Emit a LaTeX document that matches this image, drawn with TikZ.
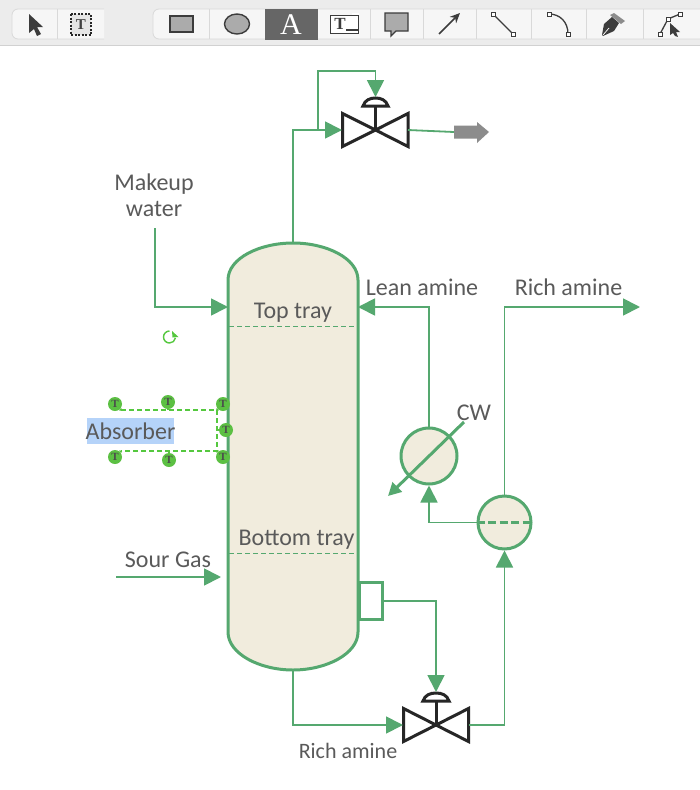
\documentclass[tikz,border=0pt]{standalone}
\usepackage{fontspec}
\setmainfont{Carlito}
\newfontfamily\serifbar{Liberation Serif}
\usetikzlibrary{arrows.meta,calc}
\definecolor{pipe}{HTML}{55A86F}
\definecolor{fillc}{HTML}{F1ECDD}
\definecolor{lab}{HTML}{5A5A5A}
\definecolor{sel}{HTML}{55C83F}
\definecolor{hand}{HTML}{5CC043}
\definecolor{iconc}{HTML}{3C3C3C}
\definecolor{icong}{HTML}{ABABAB}
\definecolor{barbg}{HTML}{ECECEC}
\definecolor{btn}{HTML}{F6F6F6}
\definecolor{hilite}{HTML}{B5D3F9}
\tikzset{
  conn/.style={draw=pipe,line width=1.8pt,line join=miter},
  flow/.style={conn,-{Triangle[length=17pt,width=17pt]}},
  vessel/.style={draw=pipe,line width=3pt,fill=fillc},
  drum/.style={vessel,circle,inner sep=0pt},
  valvebody/.style={draw=black!85,line width=3pt,line join=miter,fill=white},
  label/.style={text=lab,font=\fontsize{24}{27}\selectfont,inner sep=0pt,align=center},
  handle/.style={circle,fill=hand,minimum size=14pt,inner sep=0pt,text=black!70,font=\serifbar\bfseries\fontsize{11}{11}\selectfont},
  icon/.style={draw=iconc,line width=1.4pt,fill=icong},
  iconline/.style={draw=iconc,line width=1.3pt},
  sq/.style={draw=iconc,line width=1pt,fill=white,minimum size=4pt,inner sep=0pt},
  sep/.style={draw=black!15,line width=.8pt},
}
\begin{document}
\begin{tikzpicture}[x=1pt,y=-1pt]
\useasboundingbox (0,0) rectangle (700,790);
\fill[white] (0,0) rectangle (700,790);
% toolbar
\fill[barbg] (0,0) rectangle (700,45);
\draw[black!18,line width=.8pt] (0,45.5) -- (700,45.5);
\path[fill=btn,draw=black!15,line width=.8pt,rounded corners=6pt] (104,9) -- (12,9) -- (12,39) -- (104,39);
\path[fill=btn,draw=black!15,line width=.8pt,rounded corners=6pt] (700,9) -- (153,9) -- (153,39) -- (700,39);
\draw[sep] (57,9) -- (57,39) (209,9) -- (209,39) (370,9) -- (370,39) (423,9) -- (423,39) (476,9) -- (476,39) (531,9) -- (531,39) (586,9) -- (586,39) (643,9) -- (643,39);
\fill[black!60] (265,8.5) rectangle (318,39.5);
% cursor
\fill[iconc] (29,14) -- (43,27) -- (37,27) -- (41,34) -- (37,36) -- (34,29) -- (29,33) -- cycle;
% text tool
\fill[black!10] (71,14) rectangle (91,35);
\draw[black!85,line width=1.2pt,dash pattern=on 2pt off 1.5pt] (71,14) rectangle (91,35);
\node[text=black!75,font=\serifbar\bfseries\fontsize{15}{15}\selectfont,inner sep=0pt] (tooltext) at (81,25) {T};
% rectangle and ellipse
\draw[icon] (170,16) rectangle (193,32);
\draw[icon] (237,24) ellipse (12.5 and 10);
\node[text=white,font=\serifbar\fontsize{30}{30}\selectfont,inner sep=0pt] (toola) at (291,25) {A};
% text box tool
\draw[draw=iconc,line width=1pt,fill=white] (330,15) rectangle (358,33);
\draw[draw=white,line width=2pt] (352,14) -- (359,14);
\node[text=iconc,font=\serifbar\bfseries\fontsize{17}{17}\selectfont,inner sep=0pt] (tooltb) at (340,24) {T};
\draw[iconc,line width=1.3pt] (346,30) -- (358,30);
% callout
\draw[icon] (385,13) -- (408,13) -- (408,31) -- (396,31) -- (391,36) -- (391,31) -- (385,31) -- cycle;
% arrow
\draw[iconc,line width=1.5pt,-{Stealth[length=10pt,width=9pt]}] (439,34) -- (460,13);
% line
\coordinate (la) at (493,14); \coordinate (lb) at (513,34);
\draw[iconline] (la) -- (lb);
\node[sq] at (la) {}; \node[sq] at (lb) {};
% arc
\coordinate (aa) at (549,14); \coordinate (ab) at (568,34);
\draw[iconline] (aa) .. controls (560,14) and (568,22) .. (ab);
\node[sq] at (aa) {}; \node[sq] at (ab) {};
% pen
\fill[iconc] (604,24) -- (612,17) -- (619,23) -- (614,31) -- (603,36) -- (602,35) -- cycle;
\fill[black!45] (610,15) -- (614,13) -- (625,21) -- (621,24) -- cycle;
\draw[white,line width=.7pt] (603,35) -- (609,28);
% node edit
\coordinate (na) at (660,34); \coordinate (nb) at (668,19); \coordinate (nc) at (680,14);
\draw[iconline] (na) -- (nb) -- (nc);
\node[sq] at (na) {}; \node[sq] at (nb) {}; \node[sq] at (nc) {};
\fill[iconc] (670,23) -- (680,32) -- (676,32) -- (678,37) -- (675,36) -- (673,33) -- (670,35) -- cycle;

% tower
\path[vessel] (228,280) .. controls (228,258) and (260,243) .. (293,243) .. controls (326,243) and (358,258) .. (358,280) -- (358,632) .. controls (358,654) and (326,670) .. (293,670) .. controls (260,670) and (228,654) .. (228,632) -- cycle;
\coordinate (towtop) at (293,243);
\coordinate (towbot) at (293,670);
\coordinate (towleftin) at (228,307);
\coordinate (towrightin) at (358,307);
\coordinate (towgas) at (221,577);
\draw[pipe,line width=.9pt,dash pattern=on 5pt off 3pt] (229,326) -- (357,326);
\draw[pipe,line width=.9pt,dash pattern=on 5pt off 3pt] (229,553) -- (357,553);
% nozzle
\node[draw=pipe,line width=3pt,fill=white,minimum width=23pt,minimum height=37pt,inner sep=0pt,outer sep=0pt] (nozzle) at (370.5,601) {};

% valves
\coordinate (v1) at (375.5,130);
\draw[valvebody] (v1) -- (342.5,113.5) -- (342.5,146.5) -- cycle;
\draw[valvebody] (v1) -- (408,113.5) -- (408,146.5) -- cycle;
\draw[draw=black!85,line width=3pt] (v1) -- (375.5,106);
\draw[draw=black!85,line width=3pt,fill=white] (363,106) .. controls (365,100) and (370,98) .. (375.5,98) .. controls (381,98) and (386,100) .. (388,106) -- cycle;
\coordinate (v1in) at (342,130); \coordinate (v1out) at (408,130); \coordinate (v1top) at (375.5,97);

\coordinate (v2) at (436,725);
\draw[valvebody] (v2) -- (403.5,708.5) -- (403.5,741.5) -- cycle;
\draw[valvebody] (v2) -- (468.5,708.5) -- (468.5,741.5) -- cycle;
\draw[draw=black!85,line width=3pt] (v2) -- (436,701);
\draw[draw=black!85,line width=3pt,fill=white] (423,701) .. controls (425,695) and (430,693) .. (436,693) .. controls (442,693) and (447,695) .. (449,701) -- cycle;
\coordinate (v2in) at (403,725); \coordinate (v2out) at (469,725); \coordinate (v2top) at (436,692);

% drums
\node[drum,minimum size=56pt] (cool) at (429,456) {};
\node[drum,minimum size=53pt] (sepd) at (504.5,522.5) {};
\draw[pipe,line width=3pt,dash pattern=on 8pt off 3.5pt] (sepd.west) -- (sepd.east);

% grey outlet arrow
\node[inner sep=0pt,minimum size=0pt] (gout) at (454,132) {};
\fill[black!45] (454,125.5) -- (477,125.5) -- (477,122) -- (489,132) -- (477,143) -- (477,138.5) -- (454,138.5) -- cycle;

% connectors
\draw[flow] (towtop) |- (v1in);
\coordinate (tap) at (318,130);
\coordinate (tapc) at (375.5,71);
\draw[conn] (tap) |- (tapc);
\draw[flow] (tapc) -- (v1top);
\draw[conn] (v1out) -- (gout);
\draw[flow] (towbot) |- (v2in);
\draw[flow] (nozzle.east) -| (v2top);
\coordinate (riser) at (504.5,725);
\draw[conn] (v2out) -- (riser);
\draw[flow] (riser) -- (sepd.south);
\draw[flow] (sepd.west) -| (cool.south);
\draw[flow] (cool.north) |- (towrightin);
\coordinate (richend) at (640,307);
\draw[flow] (sepd.north) |- (richend);
\coordinate (muw) at (155,228);
\draw[flow] (muw) |- (towleftin);
\coordinate (sgas) at (116,577);
\draw[flow] (sgas) -- (towgas);
\coordinate (cwa) at (464,422); \coordinate (cwb) at (388,496);
\draw[pipe,line width=3pt,-{Triangle[length=13pt,width=13pt]}] (cwa) -- (cwb);

% labels
\node[label] (makeup) at (154,195) {Makeup\\[-1pt]water};
\node[label,anchor=base] (toptray) at (293,318) {Top tray};
\node[label,anchor=base] (lean) at (422,295) {Lean amine};
\node[label,anchor=base] (rich1) at (568.5,295) {Rich amine};
\node[label,anchor=base] (cw) at (474,420) {CW};
\node[label,anchor=base] (bottray) at (296.5,545) {Bottom tray};
\node[label,anchor=base] (sour) at (168,567) {Sour Gas};
\node[label,anchor=base,font=\fontsize{22}{24}\selectfont] (rich2) at (348,758) {Rich amine};

% selected text
\fill[hilite] (87,418) rectangle (174,444);
\draw[sel,line width=1.3pt,dash pattern=on 5pt off 3pt] (121,410) -- (217,410) -- (217,451) -- (121,451);
\node[label,anchor=base] (absorber) at (130.5,439) {Absorber};
\foreach \n/\px/\py/\tx/\ty in {ha/115/404/121/410,hb/168/402/168/410,hc/223/404/217/410,hd/226/430/217/430,he/115/457/121/451,hf/169/460/169/451,hg/223/457/217/451}{
  \node[handle] (\n) at (\px,\py) {T};
  \draw[hand,line width=2.5pt] (\n) -- (\tx,\ty);
}
% rotate handle
\draw[sel,line width=1.4pt] (169.5,331) arc[start angle=-90,end angle=-350,radius=6];
\fill[sel] (172,331) -- (178.5,337) -- (172.5,337.5) -- cycle;
\end{tikzpicture}
\end{document}
